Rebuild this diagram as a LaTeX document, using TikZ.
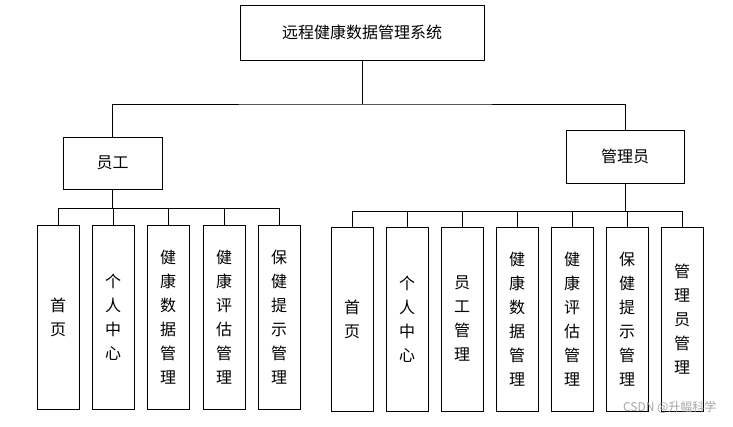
\documentclass[tikz,border=0pt]{standalone}
\usepackage{fontspec}
\setmainfont{Noto Sans CJK SC}
\begin{document}
\begin{tikzpicture}[x=1pt,y=-1pt,
  box/.style={draw,semithick,minimum width=#1,inner sep=0pt,font=\fontsize{16}{18}\selectfont},
  vbox/.style={draw,semithick,minimum width=42pt,minimum height=184pt,align=center,inner sep=0pt,font=\fontsize{16}{24}\selectfont},
  ln/.style={semithick}]
\useasboundingbox (0,0) rectangle (733,426);
\node[box=244pt,minimum height=55pt] (top) at (362,32.5) {远程健康数据管理系统};
\node[box=99pt,minimum height=52pt] (emp) at (112.5,163) {员工};
\node[box=118pt,minimum height=53pt] (adm) at (625,156.5) {管理员};
\coordinate (bt) at (362,104);
\draw[ln] (top.south) -- (bt);
\draw[ln] (emp.north) |- (bt) -| (adm.north);
\foreach \n/\x/\t in {e1/58/首\\页, e2/113/个\\人\\中\\心, e3/168/健\\康\\数\\据\\管\\理, e4/224/健\\康\\评\\估\\管\\理, e5/279/保\\健\\提\\示\\管\\理}
  \node[vbox] (\n) at (\x,317) {\t};
\coordinate (be) at (112.5,208);
\draw[ln] (emp.south) -- (be);
\foreach \n in {e1,e2,e3,e4,e5} \draw[ln] (\n.north) |- (be);
\foreach \n/\x/\t in {a1/352/首\\页, a2/407/个\\人\\中\\心, a3/462/员\\工\\管\\理, a4/517/健\\康\\数\\据\\管\\理, a5/572/健\\康\\评\\估\\管\\理, a6/627/保\\健\\提\\示\\管\\理, a7/682/管\\理\\员\\管\\理}
  \node[vbox] (\n) at (\x,319) {\t};
\coordinate (ba) at (625,211);
\draw[ln] (adm.south) -- (ba);
\foreach \n in {a1,a2,a3,a4,a5,a6,a7} \draw[ln] (\n.north) |- (ba);
\node[text=gray!70,font=\fontsize{12}{14}\selectfont,anchor=east] (wm) at (720,407) {CSDN @升幅科学};
\end{tikzpicture}
\end{document}
